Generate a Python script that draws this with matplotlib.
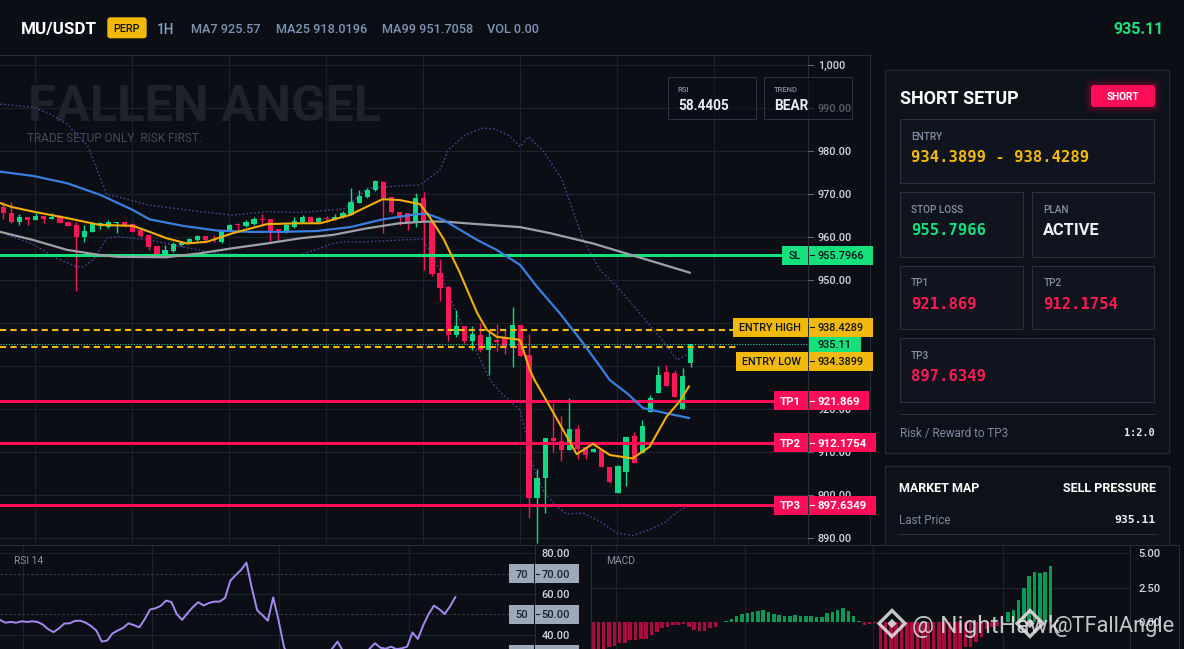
import matplotlib
matplotlib.use("Agg")
import matplotlib.pyplot as plt
from matplotlib.patches import Rectangle, FancyBboxPatch, Polygon
from matplotlib.transforms import blended_transform_factory
from matplotlib.colors import to_rgba

# ===================== DATA =====================
symbol = "MU/USDT"
contract = "PERP"
timeframe = "1H"
ma7_label, ma25_label, ma99_label = "925.57", "918.0196", "951.7058"
volume_label = "0.00"
last_price = 935.11
rsi_reading = "58.4405"
trend_reading = "BEAR"
watermark_title = "FALLEN ANGEL"
watermark_sub = "TRADE SETUP ONLY. RISK FIRST."

opens = [967.05, 965.7, 963.6, 964.7, 963.9, 964.9, 964.2, 964.9, 963.6, 962.8,
         960.1, 961.2, 962.6, 962.4, 963.2, 963.6, 963.0, 961.6, 960.5, 957.9,
         956.0, 956.8, 958.1, 958.7, 959.3, 960.2, 959.5, 958.9, 961.5, 962.9,
         962.6, 963.0, 964.3, 964.1, 961.8, 961.2, 962.4, 963.4, 964.6, 963.6,
         964.3, 964.1, 964.6, 965.1, 968.0, 969.4, 970.9, 972.9, 969.4, 965.7,
         965.7, 963.6, 969.0, 963.6, 951.6, 948.3, 937.2, 939.3, 935.7, 937.2,
         933.7, 936.0, 936.4, 934.5, 939.5, 932.6, 899.2, 903.9, 913.2, 912.6,
         910.5, 915.3, 911.2, 910.1, 910.5, 906.6, 900.4, 905.4, 913.7, 909.7,
         919.4, 923.8, 928.7, 928.3, 919.9, 930.8]
highs = [968.1, 968.1, 965.4, 964.7, 965.5, 964.9, 965.7, 965.1, 963.8, 963.6,
         962.8, 963.3, 963.6, 964.0, 963.6, 963.8, 963.2, 961.8, 960.5, 958.0,
         958.1, 958.9, 958.9, 959.7, 960.4, 960.2, 960.5, 961.7, 963.0, 963.2,
         964.0, 964.6, 965.3, 964.3, 961.8, 963.0, 964.6, 965.2, 964.9, 964.7,
         964.9, 965.4, 966.0, 971.5, 971.0, 971.5, 973.3, 973.1, 969.4, 965.7,
         965.7, 970.2, 970.5, 963.6, 954.9, 948.6, 943.0, 939.3, 939.2, 939.9,
         938.0, 939.8, 938.4, 943.8, 939.5, 937.4, 906.0, 913.2, 921.3, 918.4,
         922.5, 916.3, 911.2, 911.0, 910.5, 906.6, 907.0, 913.6, 914.6, 917.4,
         923.3, 930.0, 930.2, 929.1, 929.6, 935.2]
lows = [964.1, 963.3, 962.8, 962.8, 963.9, 963.2, 964.1, 963.2, 962.6, 947.5,
        958.9, 961.2, 961.8, 962.0, 960.9, 962.4, 961.2, 960.0, 957.0, 955.8,
        955.8, 956.6, 957.9, 958.5, 959.1, 959.1, 958.9, 958.7, 961.3, 961.2,
        962.4, 962.8, 962.8, 959.1, 959.1, 961.0, 962.2, 963.2, 963.4, 963.4,
        963.6, 963.9, 964.4, 965.1, 967.8, 969.0, 970.7, 960.9, 965.5, 962.8,
        961.6, 962.4, 952.3, 951.0, 945.2, 935.9, 936.8, 935.3, 933.7, 933.3,
        927.9, 933.6, 932.9, 929.8, 932.4, 894.6, 888.8, 895.7, 910.1, 907.8,
        910.5, 908.3, 908.3, 910.0, 906.4, 902.7, 900.4, 902.1, 907.5, 909.7,
        919.4, 923.8, 925.4, 922.9, 919.9, 929.8]
closes = [965.5, 963.6, 964.6, 963.9, 964.9, 964.2, 964.7, 963.2, 962.6, 960.1,
          961.4, 963.2, 963.3, 963.6, 963.4, 962.6, 961.2, 960.2, 957.6, 956.0,
          957.0, 958.4, 958.7, 959.5, 960.2, 959.3, 959.1, 961.5, 962.8, 962.8,
          963.6, 964.3, 963.9, 961.5, 961.4, 962.8, 963.8, 964.6, 963.6, 964.5,
          964.1, 964.7, 965.5, 968.1, 969.5, 970.9, 973.0, 969.0, 965.7, 964.5,
          963.6, 969.0, 963.6, 951.3, 948.2, 937.2, 939.3, 935.7, 937.4, 933.7,
          936.8, 935.6, 934.5, 939.5, 932.4, 899.2, 904.0, 913.2, 912.6, 910.5,
          915.3, 910.7, 909.3, 910.7, 906.4, 903.1, 906.7, 913.6, 907.5, 916.0,
          922.5, 927.9, 925.4, 922.9, 927.7, 935.11]

# moving averages / bands (bar index, price)
ma7_x = [-0.4, 1, 3.7, 7.9, 9.9, 12, 16, 18.1, 20.2, 22.7, 25.2, 28.4, 32.6, 36.7, 39.2,
         42.8, 44.9, 46.9, 49, 51.1, 51.5, 52.7, 54.4, 56.4, 58.6, 59.8, 61, 63.5, 63.9,
         65.1, 65.7, 67.6, 70.9, 72.9, 75, 77.8, 79.9, 82, 83.6, 84.8]
ma7_y = [967.9, 967.0, 965.9, 964.4, 963.6, 962.8, 962.6, 961.2, 959.7, 958.5, 958.9, 960.9,
         963.0, 963.2, 963.2, 965.1, 967.0, 968.8, 968.6, 967.8, 967.7, 964.7, 959.7, 951.9,
         942.3, 938.4, 936.8, 936.2, 936.0, 929.1, 926.7, 920.5, 909.5, 911.9, 909.3, 908.5,
         911.2, 918.2, 921.7, 925.3]
ma25_x = [-0.4, 3.7, 7.9, 12, 16, 18.1, 22.2, 26.4, 30.5, 34.6, 38.8, 42.9, 46.9, 51.1,
          52.4, 54.4, 58.6, 61, 63.9, 66, 68.8, 71.7, 74.1, 75, 77.1, 79.1, 82, 84.8]
ma25_y = [975.2, 974.2, 972.5, 969.8, 966.3, 964.1, 962.6, 961.5, 961.2, 961.2, 961.4, 962.3,
          964.1, 965.3, 965.4, 964.0, 959.3, 957.0, 953.5, 948.4, 942.3, 935.3, 929.1, 926.7,
          923.7, 920.2, 919.0, 917.9]
ma99_x = [-0.4, 3.7, 7.9, 12, 14.1, 20.2, 24.3, 28.4, 32.6, 36.7, 40.8, 44.9, 49, 52.4,
          54.4, 58.6, 63.9, 67.6, 72.9, 79.1, 84.9]
ma99_y = [961.2, 959.3, 957.0, 955.8, 955.4, 955.3, 956.2, 957.4, 958.5, 959.7, 960.5, 962.0,
          963.2, 963.6, 963.6, 963.0, 962.3, 960.9, 958.5, 955.0, 951.7]
bb_up_x = [-0.4, 3.7, 5.8, 7.9, 9.5, 10.5, 11.6, 12.8, 14.1, 18.1, 24.3, 28.4, 32.6, 36.7,
           40.8, 42.2, 45.0, 49.0, 51.5, 54.0, 55.0, 57.1, 59.2, 60.8, 62.6, 63.9, 64.9,
           66.7, 69.1, 71.7, 73.8, 75.9, 79.1, 81.5, 83.3, 84.9]
bb_up_y = [990.9, 990.2, 988.6, 986.3, 983.0, 981.0, 975.6, 969.8, 969.4, 967.4, 965.9, 965.1,
           965.9, 965.7, 966.3, 966.6, 971.3, 971.9, 972.1, 975.6, 980.2, 983.7, 985.3, 985.1,
           983.5, 981.0, 983.3, 980.2, 973.3, 959.3, 952.3, 948.4, 941.4, 936.0, 931.4, 933.0]
bb_lo_x = [0.5, 3.7, 6.6, 9.1, 9.9, 11.1, 12.8, 14.1, 18.1, 22.2, 26.4, 30.5, 36.7, 40.8,
           42.0, 45.0, 49.0, 51.9, 54.0, 55.2, 56.8, 58.6, 60.2, 61.4, 63.9, 64.7, 65.5,
           66.7, 68.4, 69.7, 71.7, 73.8, 75.9, 77.8, 79.9, 82.0, 83.3, 84.6]
bb_lo_y = [960.5, 958.3, 955.0, 953.1, 953.0, 954.7, 959.7, 960.1, 959.3, 957.7, 956.2, 955.8,
           955.8, 958.5, 958.9, 958.9, 959.3, 959.5, 952.3, 946.1, 939.1, 933.0, 926.7, 924.0,
           919.8, 913.6, 906.7, 901.2, 897.3, 895.6, 895.8, 893.8, 891.1, 890.6, 891.9, 893.8,
           896.1, 897.3]

price_ticks = [1000, 990, 980, 970, 960, 950, 940, 930, 920, 910, 900, 890]

level_names = ["SL", "ENTRY HIGH", "ENTRY LOW", "TP1", "TP2", "TP3"]
level_values = [955.7966, 938.4289, 934.3899, 921.869, 912.1754, 897.6349]

rsi = [47.2, 45.8, 46.2, 45.8, 46.5, 46.2, 46.5, 46.2, 44.9, 42.6,
       41.2, 43.0, 45.4, 45.5, 46.7, 46.8, 45.8, 44.2, 41.9, 36.5,
       37.0, 40.5, 42.0, 43.3, 45.5, 44.6, 43.5, 47.5, 52.3, 52.9,
       54.1, 56.7, 56.0, 50.0, 47.2, 50.5, 53.5, 55.9, 54.3, 55.5,
       56.2, 56.2, 58.0, 66.5, 69.3, 71.8, 75.4, 63.0, 52.0, 49.5,
       46.8, 58.3, 47.0, 34.0, 28.0, 24.0, 22.0, 25.0, 23.0, 26.0,
       29.0, 30.0, 33.0, 36.5, 32.0, 28.0, 27.0, 29.0, 30.0, 33.0,
       35.7, 33.5, 33.0, 34.0, 32.8, 33.2, 34.0, 41.0, 37.8, 44.5,
       50.0, 54.2, 52.5, 50.1, 53.8, 58.44]
rsi_grid = [80, 60, 40]
rsi_marks = [70, 50, 30]

macd_hist = [-2.2, -2.0, -1.96, -1.79, -1.74, -1.55, -1.50, -1.31, -1.31, -1.23,
             -1.23, -0.94, -0.70, -0.46, -0.39, -0.22, -0.22, -0.15, -0.34, -0.58,
             -0.63, -0.63, -0.46, -0.34, 0.03, 0.10, 0.19, 0.44, 0.58, 0.68,
             0.75, 0.82, 0.87, 0.75, 0.58, 0.48, 0.44, 0.46, 0.51, 0.46,
             0.44, 0.41, 0.36, 0.39, 0.63, 0.75, 0.90, 1.02, 0.82, 0.44,
             0.10, -0.22, -0.17, -0.10, -2.4, -2.9, -3.3, -3.6, -3.8, -3.9,
             -3.9, -3.8, -3.6, -3.4, -3.2, -3.0, -2.8, -2.6, -2.4, -2.1,
             -1.84, -1.79, -1.43, -1.07, -0.53, -0.39, -0.29, -0.10, 0.75, 0.87,
             1.60, 2.45, 3.34, 3.63, 3.58, 3.61, 4.07]
macd_ticks = [5.0, 2.5, 0.0]

setup_side = "SHORT"
plan_state = "ACTIVE"
risk_reward = "1:2.0"
market_bias = "SELL PRESSURE"
watermark_handles = ["@ NightHawk", "@TFallAngle"]

# ===================== STYLE =====================
W, H = 1184, 649
BG = "#0b0e15"
GRID = "#1b222d"
FRAME = "#252d3a"
GREEN = "#10d887"
RED = "#fc1757"
LVG = "#16e07c"
LVR = "#ff0d57"
YEL = "#f0b90b"
DARK = "#10141b"
ORANGE = "#f2ae0a"
BLUE = "#3a7fe0"
GRAY = "#9ea1a8"
BAND = "#4d4296"
RSI_C = "#a58af0"
LABEL_C = "#cfd6e0"
MUTED = "#8591a6"
PANEL = "#0d1119"
PANEL_E = "#232b38"
CARD = "#0f141e"
CARD_E = "#283140"
MONO = ["DejaVu Sans Mono"]

plt.rcParams['font.family'] = ['Roboto', 'DejaVu Sans']

fig = plt.figure(figsize=(W / 100, H / 100), dpi=100)
fig.patch.set_facecolor(BG)


def px_axes(x0, y0, x1, y1, z):
    a = fig.add_axes([x0 / W, 1 - y1 / H, (x1 - x0) / W, (y1 - y0) / H], zorder=z)
    a.set_facecolor(BG)
    for s in a.spines.values():
        s.set_visible(False)
    a.tick_params(length=0, labelleft=False, labelbottom=False)
    return a


# ---------------- main price pane ----------------
ax = px_axes(0, 55, 808, 545, 1)
P_LO, P_HI = 888.37, 1002.33
ax.set_xlim(-0.41, 99.5)
ax.set_ylim(P_LO, P_HI)
ax.set_yticks(price_ticks)
ax.set_xticks([3.9 + 12 * k for k in range(8)])
ax.grid(True, color=GRID, lw=0.8)
ax.set_axisbelow(True)

xs = list(range(len(closes)))
cols = [GREEN if c >= o else RED for o, c in zip(opens, closes)]
ax.vlines(xs, lows, highs, colors=cols, lw=1.0, zorder=2)
ax.bar(xs, [max(abs(c - o), 0.25) for o, c in zip(opens, closes)],
       bottom=[min(o, c) for o, c in zip(opens, closes)],
       width=0.64, color=cols, lw=0, zorder=3)

ax.plot(bb_up_x, bb_up_y, color=BAND, lw=1.0, ls=(0, (1.2, 1.6)), zorder=1.5)
ax.plot(bb_lo_x, bb_lo_y, color=BAND, lw=1.0, ls=(0, (1.2, 1.6)), zorder=1.5)

# ---------------- overlay (pixel space) ----------------
ui = fig.add_axes([0, 0, 1, 1], zorder=5)
ui.set_xlim(0, W)
ui.set_ylim(H, 0)
ui.axis('off')
renderer = fig.canvas.get_renderer()
tr_main = blended_transform_factory(ui.transData, ax.transData)
ppu = 490.0 / (P_HI - P_LO)


def T(x, y, s, size, color, weight='normal', ha='left', va='center_baseline',
      family=None, transform=None, z=6, alpha=None):
    kw = dict(fontsize=size, color=color, fontweight=weight, ha=ha, va=va, zorder=z)
    if family is not None:
        kw['family'] = family
    if transform is not None:
        kw['transform'] = transform
    if alpha is not None:
        kw['alpha'] = alpha
    return ui.text(x, y, s, **kw)


def text_w(s, size, weight='normal', family=None):
    t = T(0, 0, s, size, 'w', weight, family=family)
    w = t.get_window_extent(renderer=renderer).width
    t.remove()
    return w


def fit(t, target):
    w = t.get_window_extent(renderer=renderer).width
    t.set_fontsize(t.get_fontsize() * target / w)


# watermark title behind the candles
wt = ax.text(28.3, 102.5, watermark_title, transform=ui.transData, fontsize=37,
             fontweight='bold', color="#1d222b", ha='left', va='center_baseline',
             zorder=0.6, clip_on=False)
fit(wt, 352)
ws = ax.text(26.7, 137.5, watermark_sub, transform=ui.transData, fontsize=8,
             color="#444b57", ha='left', va='center_baseline', zorder=0.6, clip_on=False)
fit(ws, 175)

# MA lines
ax.plot(ma99_x, ma99_y, color=GRAY, lw=1.6, zorder=4.5, solid_capstyle='round')
ax.plot(ma25_x, ma25_y, color=BLUE, lw=1.6, zorder=4.6, solid_capstyle='round')
ax.plot(ma7_x, ma7_y, color=ORANGE, lw=1.5, zorder=4.7, solid_capstyle='round')

# frames
for (xa, xb, ya, yb) in [(0, 870, 55, 55), (808, 808, 55, 545), (870, 870, 55, 545),
                         (0, 1179, 545, 545), (535, 535, 545, 649), (591, 591, 545, 649),
                         (1130, 1130, 545, 649), (1179, 1179, 545, 649)]:
    ui.plot([xa, xb], [ya, yb], color=FRAME, lw=0.8, zorder=1)

# level label layout (boxes pushed away from the last-price tag)
lv_style = {
    "SL": dict(c=LVG, t=DARK, ls='-', lw=2.2, w='medium'),
    "ENTRY HIGH": dict(c=YEL, t=DARK, ls=(0, (3, 2)), lw=1.5, w='medium'),
    "ENTRY LOW": dict(c=YEL, t=DARK, ls=(0, (3, 2)), lw=1.5, w='medium'),
    "TP1": dict(c=LVR, t='white', ls='-', lw=2.2, w='bold'),
    "TP2": dict(c=LVR, t='white', ls='-', lw=2.2, w='bold'),
    "TP3": dict(c=LVR, t='white', ls='-', lw=2.2, w='bold'),
}
bh = 19 / ppu
lh = 15 / ppu
box_centres = []
for val in level_values:
    c = val
    gap = (bh + lh) / 2
    if abs(c - last_price) < gap:
        c = last_price + gap if val > last_price else last_price - gap
    box_centres.append(c)

# price labels (skip those essentially hidden under a level tag)
hide_tol = (19 - 6) / 2 / ppu
for v in price_ticks:
    s = f"{v:,.0f}" if v >= 1000 else f"{v:.2f}"
    hidden = any(abs(v - c) < hide_tol for c in box_centres)
    ui.plot([808, 813], [v, v], transform=tr_main, color="#5d6778", lw=0.8, zorder=2)
    if not hidden:
        T(818, v, s, 7.8, LABEL_C, 'medium', transform=tr_main, z=2)

ax.axhline(last_price, color="#26d3a0", lw=0.8, ls=(0, (1, 1.5)), zorder=3.6)
lp_s = f"{last_price}"
lp_w = text_w(lp_s, 7.8, 'medium') + 18
ui.add_patch(Rectangle((808.8, last_price - lh / 2), lp_w, lh, transform=tr_main,
                       fc=LVG, lw=0, zorder=4))
T(818, last_price, lp_s, 7.8, DARK, 'medium', transform=tr_main, z=5)

for name, val, c in zip(level_names, level_values, box_centres):
    st = lv_style[name]
    fs = 8.2 if st['w'] == 'bold' else 7.8
    lab_w = text_w(name, fs, st['w']) + 13
    vs = f"{val}"
    val_w = text_w(vs, fs, st['w']) + 18
    x0 = 807.5 - lab_w
    ax.axhline(val, xmin=0, xmax=x0 / 808, color=st['c'], lw=st['lw'], ls=st['ls'], zorder=4)
    ui.add_patch(Rectangle((x0, c - bh / 2), lab_w, bh, transform=tr_main, fc=st['c'], lw=0, zorder=4))
    ui.add_patch(Rectangle((808.8, c - bh / 2), val_w, bh, transform=tr_main, fc=st['c'], lw=0, zorder=4))
    T(x0 + lab_w / 2 - 0.5, c, name, fs, st['t'], st['w'], ha='center', transform=tr_main, z=5)
    T(818, c, vs, fs, st['t'], st['w'], transform=tr_main, z=5)
    ui.plot([810, 814], [c, c], transform=tr_main, color=st['t'], lw=0.8, zorder=5)

# RSI / TREND info boxes
for x0, lab, val in [(668, "RSI", rsi_reading), (764, "TREND", trend_reading)]:
    ui.add_patch(Rectangle((x0, 77), 88, 42, fc=to_rgba("#0b0f17", 0.6), ec="#283244",
                           lw=0.8, zorder=3))
    T(x0 + 10, 89, lab, 5.5, MUTED, 'medium', z=4)
    T(x0 + 10, 104.5, val, 9.8, "#e8ecf2", 'bold', z=4)

# ---------------- header ----------------
t = T(20.7, 28, symbol, 12.5, "white", 'bold')
fit(t, 76)
ui.add_patch(FancyBboxPatch((107.3, 17.3), 39.4, 21, boxstyle="round,pad=0,rounding_size=3",
                            fc=YEL, ec='none', zorder=5))
T(127, 28.3, contract, 7.8, "#15120a", 'medium', ha='center')
T(157.3, 28, timeframe, 9.8, "#8ca1c2", 'medium')
T(191, 28, f"MA7 {ma7_label}", 9.2, "#7f93b3", 'medium')
T(276, 28, f"MA25 {ma25_label}", 9.2, "#7f93b3", 'medium')
T(382, 28, f"MA99 {ma99_label}", 9.2, "#7f93b3", 'medium')
T(487, 28, f"VOL {volume_label}", 9.2, "#7f93b3", 'medium')
T(1164, 28, f"{last_price}", 11.5, "#1ee07a", 'bold', ha='right')

# ---------------- right panel ----------------
ui.add_patch(Rectangle((885.3, 70), 284, 383.3, fc=PANEL, ec=PANEL_E, lw=0.9, zorder=2))
T(900, 96.5, f"{setup_side} SETUP", 13, "white", 'bold', z=4)
for k, a in [(7, 0.05), (4.5, 0.08), (2.5, 0.12)]:
    ui.add_patch(FancyBboxPatch((1091 - k, 85 - k), 64 + 2 * k, 22 + 2 * k,
                                boxstyle=f"round,pad=0,rounding_size={3 + k}",
                                fc=LVR, ec='none', alpha=a, zorder=3))
ui.add_patch(FancyBboxPatch((1091, 85), 64, 22, boxstyle="round,pad=0,rounding_size=3",
                            fc=LVR, ec='none', zorder=4))
T(1123, 96.5, setup_side, 7.2, "white", 'bold', ha='center', z=5)


def card(x0, y0, x1, y1, label, value, vcolor, mono=True):
    ui.add_patch(Rectangle((x0, y0), x1 - x0, y1 - y0, fc=CARD, ec=CARD_E, lw=0.8, zorder=3))
    T(x0 + 11, y0 + 16.5, label, 7.2, MUTED, 'medium', z=4)
    if mono:
        T(x0 + 11, y0 + 37, value, 11.2, vcolor, 'bold', family=MONO, z=4)
    else:
        T(x0 + 11, y0 + 37, value, 11.8, vcolor, 'bold', z=4)


card(900, 119.3, 1154.3, 183.3, "ENTRY", f"{level_values[2]} - {level_values[1]}", YEL)
card(900, 192.3, 1023.3, 256.7, "STOP LOSS", f"{level_values[0]}", LVG)
card(1032.3, 192.3, 1154.3, 256.7, "PLAN", plan_state, "#eef1f6", mono=False)
card(900, 265.7, 1023.3, 329.3, "TP1", f"{level_values[3]}", "#ff1a55")
card(1032.3, 265.7, 1154.3, 329.3, "TP2", f"{level_values[4]}", "#ff1a55")
card(900, 338.3, 1154.3, 402.3, "TP3", f"{level_values[5]}", "#ff1a55")
ui.plot([900, 1155], [414.3, 414.3], color=CARD_E, lw=0.8, zorder=3)
T(900, 432, "Risk / Reward to TP3", 8.4, "#7d8aa0", z=4)
T(1155, 432, risk_reward, 7.4, "#e6e9ef", 'bold', ha='right', family=MONO, z=4)

# market map panel (bottom hidden by MACD pane)
ui.add_patch(Rectangle((885.3, 466), 284, 79, fc=PANEL, lw=0, zorder=2))
ui.plot([885.3, 885.3, 1169.3, 1169.3], [545, 466, 466, 545], color=PANEL_E, lw=0.9, zorder=2.5)
T(899, 486.5, "MARKET MAP", 9, "white", 'bold', z=4)
T(1156, 486.5, market_bias, 9, "white", 'bold', ha='right', z=4)
T(899, 519, "Last Price", 8.4, "#7d8aa0", z=4)
T(1156, 519, f"{last_price}", 8.2, "#eef1f6", 'bold', ha='right', family=MONO, z=4)
ui.plot([899, 1156], [534.3, 534.3], color=CARD_E, lw=0.8, zorder=3)

# ---------------- RSI pane ----------------
axr = px_axes(0, 545, 535, 649, 1)
R_LO, R_HI = 32.86, 84.09
axr.set_xlim(0, 99.87)
axr.set_ylim(R_LO, R_HI)
axr.set_yticks(rsi_grid)
axr.set_xticks([4.29, 28.37, 52.16, 76.29])
axr.grid(True, color=GRID, lw=0.8)
axr.set_axisbelow(True)
for m in rsi_marks[:2]:
    axr.axhline(m, color="#3a4250", lw=0.8, ls=(0, (2, 2)), zorder=1)
axr.plot(range(len(rsi)), rsi, color=RSI_C, lw=1.4, zorder=3, solid_joinstyle='round')
tr_rsi = blended_transform_factory(ui.transData, axr.transData)
rppu = 104.0 / (R_HI - R_LO)
for v in rsi_grid:
    T(541.5, v, f"{v:.2f}", 7.9, LABEL_C, 'medium', transform=tr_rsi, z=4)
for v in rsi_marks:
    h = 19 / rppu
    ui.add_patch(Rectangle((509, v - h / 2), 25, h, transform=tr_rsi, fc="#9da8b9", lw=0, zorder=3))
    ui.add_patch(Rectangle((535.3, v - h / 2), 43.5, h, transform=tr_rsi, fc="#9da8b9", lw=0, zorder=3))
    ui.plot([536, 539], [v, v], transform=tr_rsi, color="#1b2230", lw=0.8, zorder=4)
    if v >= R_LO + h / 2:  # tag text only where the tag is fully inside the pane
        T(521.5, v, f"{v}", 7.9, "#1b2230", 'medium', ha='center', transform=tr_rsi, z=4)
        T(541.5, v, f"{v:.2f}", 7.9, "#1b2230", 'medium', transform=tr_rsi, z=4)
T(14, 559.5, "RSI 14", 7.4, "#8a94a6", z=4)

# ---------------- MACD pane ----------------
axm = px_axes(591, 545, 1130, 649, 1)
M_LO, M_HI = -1.955, 5.60
axm.set_xlim(-0.376, 100.94)
axm.set_ylim(M_LO, M_HI)
axm.set_yticks([2.5, 5.0])
axm.set_xticks([4.29, 28.48, 52.69, 77.12])
axm.grid(True, color=GRID, lw=0.8)
axm.set_axisbelow(True)
axm.bar(range(len(macd_hist)), macd_hist, width=0.66, lw=0, zorder=3,
        color=["#079a55" if v >= 0 else "#a90d3f" for v in macd_hist])
tr_m = blended_transform_factory(ui.transData, axm.transData)
for v in macd_ticks:
    T(1138.3, v, f"{v:.2f}", 8, LABEL_C, 'medium', transform=tr_m, z=4)
T(606, 560, "MACD", 7.4, "#8a94a6", z=4)

# ---------------- watermark (handles) ----------------
WM = "#e6e6e8"


def logo(cx, cy, r):
    ui.add_patch(Polygon([(cx, cy - r), (cx + r, cy), (cx, cy + r), (cx - r, cy)], closed=True,
                         fill=False, ec=WM, lw=2.4, alpha=0.85, zorder=8))
    s = r * 0.36
    ui.add_patch(Polygon([(cx, cy - s), (cx + s, cy), (cx, cy + s), (cx - s, cy)], closed=True,
                         fc=WM, ec='none', alpha=0.85, zorder=8))


logo(892, 623.5, 13)
logo(1030, 623.5, 13)
t1 = T(912, 624, watermark_handles[0], 15.5, WM, alpha=0.85, z=9)
fit(t1, 148)
t2 = T(1053, 624, watermark_handles[1], 15.5, WM, alpha=0.85, z=9)
fit(t2, 122)

fig.savefig("out.png", dpi=100, facecolor=BG)
